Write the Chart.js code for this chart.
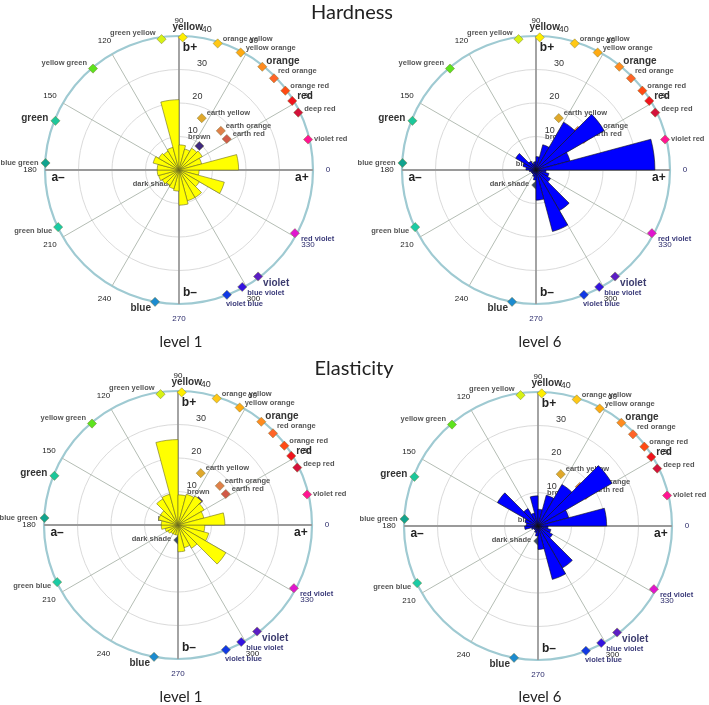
<!DOCTYPE html>
<html>
<head>
<meta charset="utf-8">
<title>Hardness / Elasticity colour wheels</title>
<script src="https://cdn.jsdelivr.net/npm/chart.js@4.4.1/dist/chart.umd.min.js"></script>
<style>
  body { margin: 0; background: #fff; }
  #page { position: relative; width: 709px; height: 705px; overflow: hidden; font-family: Lato, "Open Sans", sans-serif; color: #222; }
  .title { position: absolute; font-size: 20px; transform: translate(-50%, -50%); white-space: nowrap; z-index: 2; }
  .caption { position: absolute; font-size: 15px; transform: translate(-50%, -50%); white-space: nowrap; z-index: 2; }
  canvas { position: absolute; }
</style>
</head>
<body>
<div id="page">
  <div class="title" style="left:352px; top:11px;">Hardness</div>
  <div class="title" style="left:354px; top:367px;">Elasticity</div>
  <div class="caption" style="left:181px; top:341px;">level 1</div>
  <div class="caption" style="left:540px; top:341px;">level 6</div>
  <div class="caption" style="left:181px; top:696px;">level 1</div>
  <div class="caption" style="left:540px; top:696px;">level 6</div>
  <canvas id="hard1" width="360" height="360" style="left:-1px; top:-10px;"></canvas>
  <canvas id="hard6" width="360" height="360" style="left:356px; top:-10px;"></canvas>
  <canvas id="elas1" width="360" height="360" style="left:-2px; top:345px;"></canvas>
  <canvas id="elas6" width="360" height="360" style="left:358px; top:346px;"></canvas>
</div>
<script>
// hue bins, 15 degrees each, counter-clockwise from a+ (0)
var binStarts = [0, 15, 30, 45, 60, 75, 90, 105, 120, 135, 150, 165,
                 180, 195, 210, 225, 240, 255, 270, 285, 300, 315, 330, 345];

var hardnessLevel1 = [17.8, 7, 8, 7.5, 6.5, 7.5, 21, 7, 6.5, 7, 8, 6.5,
                      6.5, 6.3, 5.8, 5.3, 5.8, 6.3, 10.5, 9.5, 9.5, 7, 14, 6];
var hardnessLevel6 = [35.5, 10.5, 23.5, 16.5, 7.8, 4, 2.5, 2, 3, 7, 4, 3,
                      2, 1.5, 1.5, 1.5, 2, 3, 9, 19, 14, 5, 4, 3];
var elasticityLevel1 = [14, 8, 9, 10, 9.5, 9, 25.5, 9.5, 9, 6, 6, 5,
                        5, 4, 3.5, 3, 3, 3, 8, 7, 8, 16.5, 9.5, 8];
var elasticityLevel6 = [20.5, 9.5, 25.5, 14.3, 9.5, 5, 9, 4, 6, 14, 4, 3.5,
                        4, 2, 1.5, 1.5, 2, 3, 7, 16.5, 14.5, 5, 4, 3];

var angleTicks = [0, 30, 60, 90, 120, 150, 180, 210, 240, 270, 300, 330];
var radialTicks = [10, 20, 30, 40];

// named colours: hue angle and chroma on the wheel
var markerNames = ['yellow', 'green yellow', 'yellow green', 'green', 'blue green', 'green blue',
                   'blue', 'violet blue', 'blue violet', 'violet', 'red violet', 'violet red',
                   'deep red', 'red', 'orange red', 'red orange', 'orange', 'yellow orange',
                   'orange yellow', 'earth yellow', 'earth orange', 'earth red', 'brown',
                   'black', 'dark shade'];
var markerHue = [88.4, 97.6, 130.3, 158.3, 177, 205.3,
                 259.7, 291, 298.4, 306.6, 331.4, 13.3,
                 25.7, 31.4, 36.7, 44, 51.1, 62.3,
                 73, 66.3, 43.1, 33, 49.7,
                 135, 271];
var markerChroma = [39.6, 39.4, 39.7, 39.7, 39.9, 39.9,
                    40, 39.9, 39.7, 39.6, 39.4, 39.6,
                    39.5, 39.6, 39.6, 39.4, 39.6, 39.6,
                    39.5, 16.9, 17.1, 17, 9.4,
                    0, 4.5];
var markerColors = ['#FFEE00', '#D6F214', '#5DE31E', '#1CC79B', '#12A38F', '#1BCBA5',
                    '#1C8BD0', '#1139E4', '#3313DF', '#5B1EC3', '#E015CF', '#FF1592',
                    '#D3123B', '#F0141E', '#FF4A14', '#FF6428', '#FF8B20', '#FFAA12',
                    '#FFC816', '#E0A82B', '#E0804A', '#D15A48', '#3F2A7E',
                    '#111111', '#3A4A6A'];

// label placement beside each marker: align, dx, dy, bold, colour
var labelPlace = {
  'yellow':        ['center', 5, -10, true, '#333'],
  'green yellow':  ['right', -6, -6, false, '#555'],
  'yellow green':  ['right', -6, -6, false, '#555'],
  'green':         ['right', -7, -3, true, '#333'],
  'blue green':    ['right', -7, 0, false, '#555'],
  'green blue':    ['right', -6, 4, false, '#555'],
  'blue':          ['right', -4, 6, true, '#333'],
  'violet blue':   ['left', -1, 9, false, '#3b3b7a'],
  'blue violet':   ['left', 5, 6, false, '#3b3b7a'],
  'violet':        ['left', 5, 7, true, '#3b3b6e'],
  'red violet':    ['left', 6, 6, false, '#3b3b7a'],
  'violet red':    ['left', 6, -1, false, '#555'],
  'deep red':      ['left', 6, -4, false, '#555'],
  'red':           ['left', 5, -5, true, '#333'],
  'orange red':    ['left', 5, -5, false, '#555'],
  'red orange':    ['left', 4, -7, false, '#555'],
  'orange':        ['left', 4, -6, true, '#333'],
  'yellow orange': ['left', 5, -5, false, '#555'],
  'orange yellow': ['left', 5, -5, false, '#555'],
  'earth yellow':  ['left', 5, -5, false, '#555'],
  'earth orange':  ['left', 5, -5, false, '#555'],
  'earth red':     ['left', 6, -5, false, '#555'],
  'brown':         ['center', 0, -9, false, '#555'],
  'black':         ['right', -1, -6, false, '#555'],
  'dark shade':    ['right', -7, -1, false, '#555']
};

var FONT = '"Liberation Sans", Arial, sans-serif';

function polarPos(scale, deg, value, extra) {
  var d = scale.getDistanceFromCenterForValue(value) + (extra || 0);
  var a = deg * Math.PI / 180;
  return { x: scale.xCenter + d * Math.cos(a), y: scale.yCenter - d * Math.sin(a) };
}

function diamond(ctx, x, y, radius) {
  if (Chart.helpers && Chart.helpers.drawPoint) {
    Chart.helpers.drawPoint(ctx, { pointStyle: 'rectRot', radius: radius, rotation: 0, borderWidth: 0.8 }, x, y);
  } else {
    ctx.beginPath();
    ctx.moveTo(x, y - radius); ctx.lineTo(x + radius, y);
    ctx.lineTo(x, y + radius); ctx.lineTo(x - radius, y);
    ctx.closePath(); ctx.fill(); ctx.stroke();
  }
}

var wheelPlugin = {
  id: 'wheel',
  beforeDatasetsDraw: function(chart) {
    var r = chart.scales.r, ctx = chart.ctx;
    ctx.save();
    for (var i = 0; i < markerNames.length; i++) {
      var p = polarPos(r, markerHue[i], markerChroma[i]);
      ctx.fillStyle = markerColors[i];
      ctx.strokeStyle = 'rgba(120,120,60,0.6)';
      ctx.lineWidth = 0.8;
      diamond(ctx, p.x, p.y, i === 23 ? 2.5 : 4.6);
      var lp = labelPlace[markerNames[i]];
      ctx.font = (lp[3] ? 'bold 10px ' : 'bold 7.5px ') + FONT;
      ctx.fillStyle = lp[4];
      ctx.textAlign = lp[0];
      ctx.textBaseline = 'middle';
      ctx.fillText(markerNames[i], p.x + lp[1], p.y + lp[2]);
    }
    ctx.restore();
  },
  afterDatasetsDraw: function(chart) {
    var r = chart.scales.r, ctx = chart.ctx;
    ctx.save();
    ctx.textBaseline = 'middle';
    ctx.textAlign = 'center';
    // hue angle labels round the rim
    ctx.font = '8px ' + FONT;
    angleTicks.forEach(function(a) {
      var p = polarPos(r, a, r.max, 15);
      ctx.fillStyle = (a === 0 || a === 270 || a === 330) ? '#2a2a6a' : '#222';
      ctx.fillText(String(a), p.x, p.y);
    });
    // radial tick labels
    ctx.font = '9px ' + FONT;
    ctx.fillStyle = '#333';
    radialTicks.forEach(function(v) {
      var d = r.getDistanceFromCenterForValue(v);
      ctx.fillText(String(v), r.xCenter + 9 + 0.14 * d, r.yCenter - d - 6);
    });
    // axis names
    ctx.font = 'bold 12px ' + FONT;
    ctx.fillStyle = '#222';
    var d = r.getDistanceFromCenterForValue(36.7);
    ctx.fillText('a+', r.xCenter + d, r.yCenter + 8);
    ctx.fillText('a\u2013', r.xCenter - d + 2, r.yCenter + 8);
    ctx.fillText('b+', r.xCenter + 11, r.yCenter - d + 1);
    ctx.fillText('b\u2013', r.xCenter + 11, r.yCenter + d);
    ctx.restore();
  }
};

function makeWheel(id, values, fill, edge) {
  return new Chart(document.getElementById(id), {
    type: 'polarArea',
    data: {
      // Chart.js runs clockwise, the wheel runs counter-clockwise
      labels: binStarts.slice().reverse(),
      datasets: [{
        data: values.slice().reverse(),
        backgroundColor: fill,
        borderColor: edge,
        borderWidth: 0.6
      }]
    },
    options: {
      responsive: false,
      animation: false,
      layout: { padding: 46 },
      plugins: { legend: { display: false }, tooltip: { enabled: false } },
      scales: {
        r: {
          startAngle: 90,
          min: 0,
          max: 40,
          ticks: { display: false, stepSize: 10 },
          pointLabels: { display: false },
          grid: {
            circular: true,
            color: function(c) { return c.tick && c.tick.value === 40 ? '#9fcad2' : '#d0d0d0'; },
            lineWidth: function(c) { return c.tick && c.tick.value === 40 ? 2.2 : 0.8; }
          },
          angleLines: {
            display: true,
            color: function(c) { return c.index % 6 === 0 ? '#9a9a9a' : '#b4bdb4'; },
            lineWidth: function(c) { return c.index % 2 ? 0 : (c.index % 6 === 0 ? 1.8 : 1); }
          }
        }
      }
    },
    plugins: [wheelPlugin]
  });
}

makeWheel('hard1', hardnessLevel1, '#FFFF00', '#6b6b20');
makeWheel('hard6', hardnessLevel6, '#0000FF', '#111');
makeWheel('elas1', elasticityLevel1, '#FFFF00', '#6b6b20');
makeWheel('elas6', elasticityLevel6, '#0000FF', '#111');
</script>
</body>
</html>
